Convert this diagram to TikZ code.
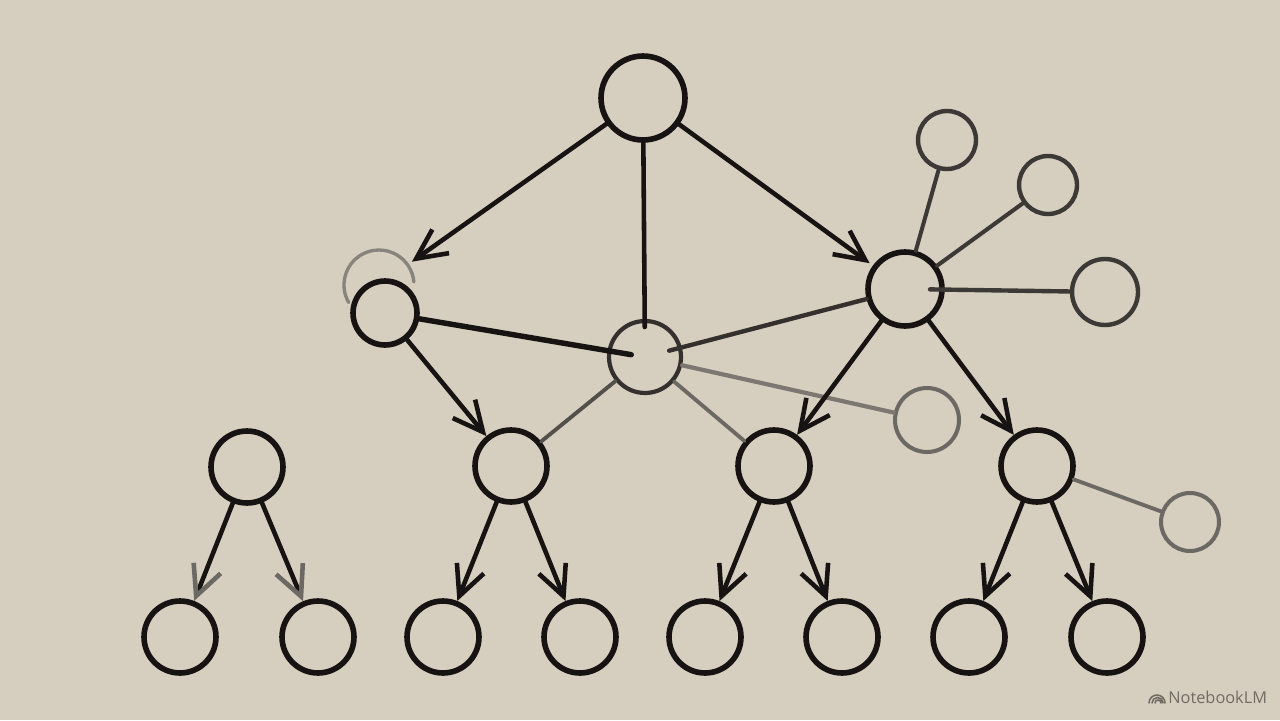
\documentclass[tikz,border=0pt]{standalone}
\usepackage{fontspec}
\newfontfamily\wmfont{Open Sans}
\usetikzlibrary{arrows.meta}
\definecolor{paper}{HTML}{D6CFBF}
\definecolor{ink}{HTML}{161312}
\definecolor{inkC}{HTML}{33302D}
\definecolor{inkS}{HTML}{3C3936}
\definecolor{inkL}{HTML}{6C6863}
\definecolor{ghostc}{HTML}{87837D}
\definecolor{wm}{HTML}{716C63}
\tikzset{
  nd/.style={circle, draw=ink, line width=3.2pt, inner sep=0pt, minimum size=#1*0.04cm},
  ndc/.style={nd=#1, draw=inkC, line width=2.4pt},
  nds/.style={nd=#1, draw=inkS, line width=2.5pt},
  ndl/.style={nd=#1, draw=inkL, line width=2.3pt},
  ln/.style={draw=ink, line width=2.6pt, line cap=round},
  arr/.style={ln, -{Straight Barb[length=0.6cm, width=0.58cm]}},
  garr/.style={ln, -{Straight Barb[length=0.6cm, width=0.58cm, color=inkL]}},
  lns/.style={draw=inkS, line width=2.3pt, line cap=round},
  lng/.style={draw=inkL, line width=2.2pt, line cap=round},
}
\begin{document}
\begin{tikzpicture}[x=0.02cm, y=-0.02cm]
\useasboundingbox (0,0) rectangle (1280,720);
\fill[paper] (0,0) rectangle (1280,720);

% nodes
\node[nd=42] (top) at (643,98) {};
\node[circle, inner sep=0pt, minimum size=35*0.04cm] (ghost) at (379,285) {};
\draw[ghostc, line width=1.9pt, line cap=round] ([shift={(150:35)}]ghost.center) arc[start angle=150, end angle=355, radius=35];
\node[nd=32] (left) at (385,313) {};
\node[ndc=36] (ctr) at (645,357) {};
\node[nd=37] (right) at (905,289) {};
\node[nds=29] (s1) at (947,140) {};
\node[nds=29] (s2) at (1048,185) {};
\node[nds=33] (s3) at (1105,292) {};
\node[ndl=32] (s4) at (927,420) {};
\node[ndl=29] (s5) at (1190,522) {};
\node[nd=36] (a) at (247,467) {};
\node[nd=36] (b) at (511,466) {};
\node[nd=36] (c) at (774,466) {};
\node[nd=36] (d) at (1037,466) {};
\node[nd=36] (a1) at (180,637) {};
\node[nd=36] (a2) at (318,637) {};
\node[nd=36] (b1) at (443,637) {};
\node[nd=36] (b2) at (580,637) {};
\node[nd=36] (c1) at (705,637) {};
\node[nd=36] (c2) at (842,637) {};
\node[nd=36] (d1) at (969,637) {};
\node[nd=36] (d2) at (1107,637) {};

% connectors from the top
\draw[arr, shorten >=0.1cm] (top) -- (ghost);
\draw[ln, shorten >=0.6cm] (top) -- (ctr.center);
\draw[arr, shorten >=0.08cm] (top) -- (right);

% middle layer
\draw[ln, line width=3.1pt, shorten >=0.28cm] (left) -- (ctr.center);
\draw[arr] (left) -- (b);
\draw[draw=inkC, line width=2.5pt, line cap=round, shorten <=0.5cm] (ctr.center) -- (right);
\draw[draw=inkS!85!paper, line width=2.2pt, line cap=round] (ctr) -- (b);
\draw[draw=inkL, line width=2.2pt, line cap=round] (ctr) -- (c);
\draw[draw=inkL!85!paper, line width=2.4pt, line cap=round] (ctr) -- (s4);

% satellites of the right node
\draw[lns] (right) -- (s1);
\draw[lns] (right) -- (s2);
\draw[lns, line width=2.5pt, shorten <=0.5cm] (right.center) -- (s3);
\draw[arr] (right) -- (c);
\draw[arr] (right) -- (d);
\draw[lng] (d) -- (s5);

% bottom layer
\draw[garr] (a) -- (a1);
\draw[garr] (a) -- (a2);
\draw[arr] (b) -- (b1);
\draw[arr] (b) -- (b2);
\draw[arr] (c) -- (c1);
\draw[arr] (c) -- (c2);
\draw[arr] (d) -- (d1);
\draw[arr] (d) -- (d2);

% watermark
\coordinate (logo) at (1157,703);
\draw[wm, line width=0.9pt, line cap=round]
  ([xshift=-8*0.02cm]logo) arc[start angle=180, end angle=360, radius=8]
  ([xshift=-8*0.02cm]logo) ++(3,0) arc[start angle=180, end angle=360, radius=5.5]
  ([xshift=-8*0.02cm]logo) ++(6,0) arc[start angle=180, end angle=360, radius=3];
\node[anchor=west, inner sep=0pt, text=wm, font=\wmfont\fontsize{9.3}{11}\selectfont] (wmtext) at (1168,697) {NotebookLM};
\end{tikzpicture}
\end{document}
